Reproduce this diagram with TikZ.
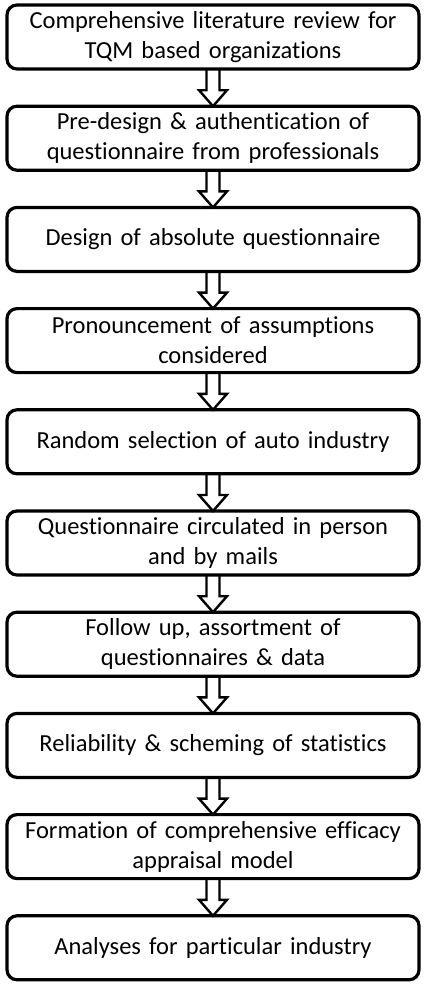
\documentclass[tikz,border=0pt]{standalone}
\usepackage{fontspec}
\setmainfont[Ligatures={NoCommon}]{Carlito}
\usetikzlibrary{positioning,calc}

\newcommand{\hollowarrow}[2]{%
  \draw[arrowline] let \p1=(#1.south), \p2=(#2.north) in
    (\x1-6.5pt,\y1) -- (\x1-6.5pt,\y2+16pt) -- (\x1-14pt,\y2+16pt) -- (\x1,\y2)
    -- (\x1+14pt,\y2+16pt) -- (\x1+6.5pt,\y2+16pt) -- (\x1+6.5pt,\y1);}

\begin{document}
\begin{tikzpicture}[
    stepbox/.style={draw, line width=3.2pt, rounded corners=10pt, minimum width=412pt,
      minimum height=64pt, text width=406pt, align=center, inner sep=0pt, outer sep=0pt,
      font=\fontsize{24.5}{30}\selectfont},
    arrowline/.style={line width=2.4pt, xshift=6pt},
    node distance=37.2pt
  ]
    \useasboundingbox (0,0) rectangle (426pt,-985pt);
    \node[stepbox, below=5pt] (lit) at (213pt,0) {Comprehensive literature review for\\TQM based organizations};
    \node[stepbox, below=of lit] (pre) {Pre-design \& authentication of\\questionnaire from professionals};
    \node[stepbox, below=of pre] (des) {Design of absolute questionnaire};
    \node[stepbox, below=of des] (pro) {Pronouncement of assumptions\\considered};
    \node[stepbox, below=of pro] (ran) {Random selection of auto industry};
    \node[stepbox, below=of ran] (cir) {Questionnaire circulated in person\\and by mails};
    \node[stepbox, below=of cir] (fol) {Follow up, assortment of\\questionnaires \& data};
    \node[stepbox, below=of fol] (rel) {Reliability \& scheming of statistics};
    \node[stepbox, below=of rel] (for) {Formation of comprehensive efficacy\\appraisal model};
    \node[stepbox, below=of for] (ana) {Analyses for particular industry};
    \hollowarrow{lit}{pre}
    \hollowarrow{pre}{des}
    \hollowarrow{des}{pro}
    \hollowarrow{pro}{ran}
    \hollowarrow{ran}{cir}
    \hollowarrow{cir}{fol}
    \hollowarrow{fol}{rel}
    \hollowarrow{rel}{for}
    \hollowarrow{for}{ana}
\end{tikzpicture}
\end{document}
